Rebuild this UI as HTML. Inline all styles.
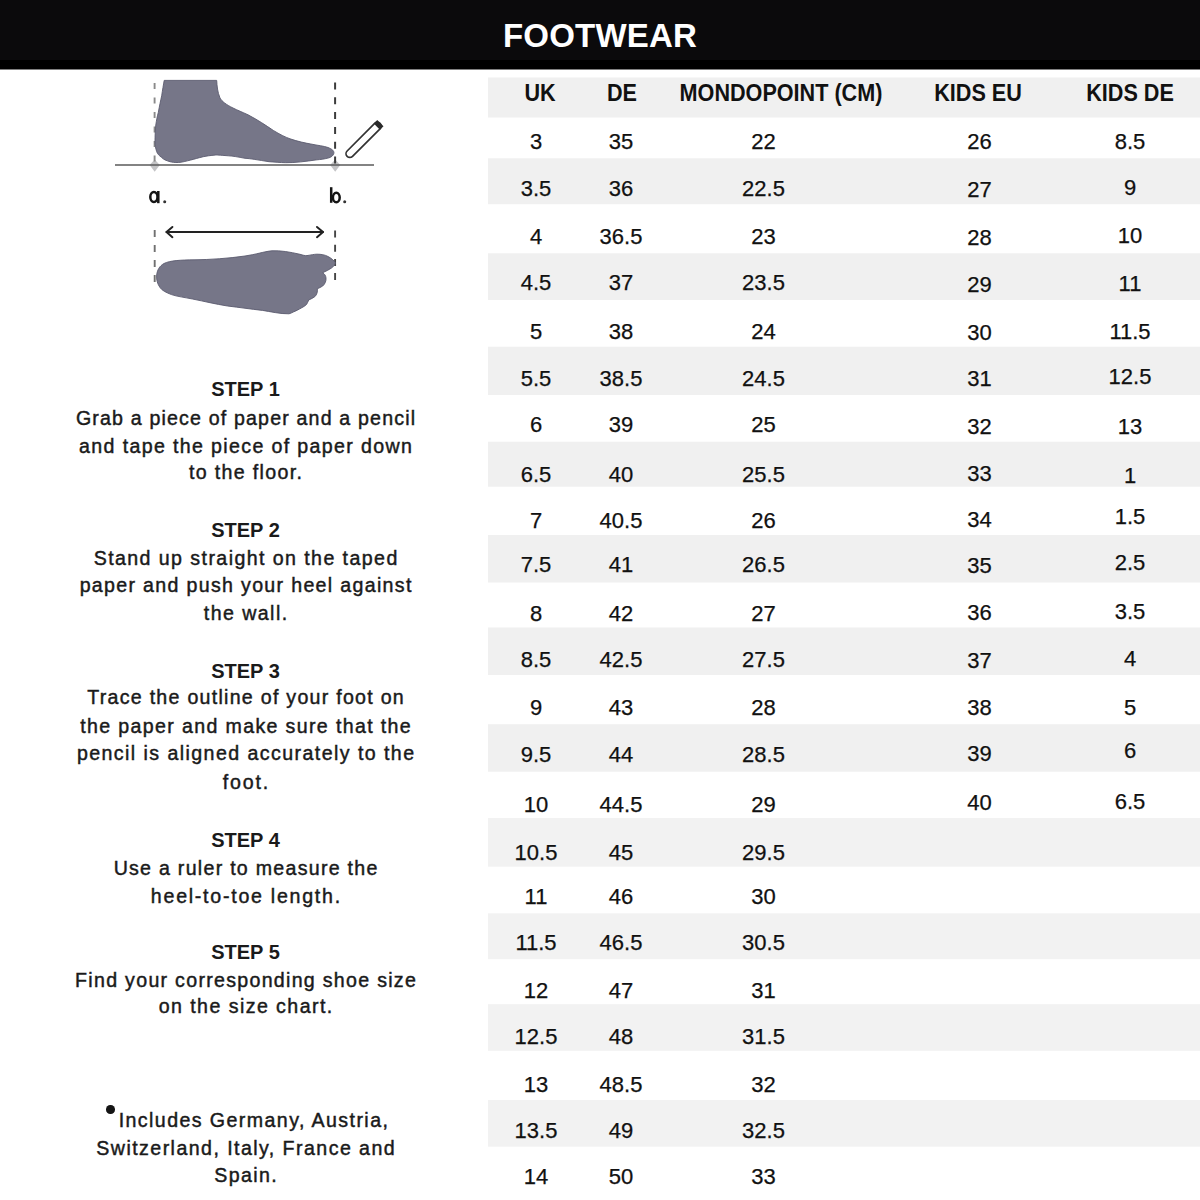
<!DOCTYPE html>
<html><head><meta charset="utf-8"><style>
html,body{margin:0;padding:0}
body{width:1200px;height:1200px;position:relative;overflow:hidden;background:#fff;font-family:"Liberation Sans",sans-serif;color:#111}
.bar{position:absolute;left:0;top:0;width:1200px;height:60px;background:#0b0a0c}
.bar2{position:absolute;left:0;top:60px;width:1200px;height:9px;background:#000}
.bar3{position:absolute;left:0;top:69px;width:1200px;height:1px;background:#808080}
.title{position:absolute;left:0;top:0;width:1200px;text-align:center;color:#fff;font-weight:700;font-size:33px;line-height:72px;letter-spacing:0.2px}
.band{position:absolute;left:488px;width:712px;background:#f0f0f0}
.c{position:absolute;width:100px;text-align:center;font-size:22px;line-height:22px;white-space:nowrap;-webkit-text-stroke:0.25px #111}
.h{position:absolute;top:79px;width:300px;text-align:center;font-weight:700;font-size:24px;line-height:28px;transform:scaleX(0.9);white-space:nowrap}
.sr,.sb{position:absolute;left:45.5px;width:400px;text-align:center;white-space:nowrap;color:#1a1a1a}
.sr{font-size:19.6px;line-height:19.6px;letter-spacing:1.35px;-webkit-text-stroke:0.45px #1a1a1a}
.sb{font-size:20px;line-height:20px;font-weight:700;letter-spacing:0px}
.ast{font-size:18px;font-weight:700;position:relative;top:-5px;margin-right:1px}
svg{position:absolute;left:0;top:0}
.bg{z-index:0}
</style></head><body>
<div class="bar"></div><div class="bar2"></div><div class="bar3"></div>
<div class="title">FOOTWEAR</div>
<svg class="bg" width="1200" height="1200"><rect x="488" y="77.5" width="712" height="40.0" fill="#f0f0f0"/><rect x="488" y="158.3" width="712" height="45.9" fill="#f0f0f0"/><rect x="488" y="253.3" width="712" height="46.7" fill="#f0f0f0"/><rect x="488" y="346.7" width="712" height="48.3" fill="#f0f0f0"/><rect x="488" y="441.7" width="712" height="45.0" fill="#f0f0f0"/><rect x="488" y="535" width="712" height="47.5" fill="#f0f0f0"/><rect x="488" y="627.5" width="712" height="47.5" fill="#f0f0f0"/><rect x="488" y="724.2" width="712" height="47.5" fill="#f0f0f0"/><rect x="488" y="818" width="712" height="48.7" fill="#f2f2f2"/><rect x="488" y="913.3" width="712" height="45.9" fill="#f2f2f2"/><rect x="488" y="1004.2" width="712" height="46.6" fill="#f2f2f2"/><rect x="488" y="1100" width="712" height="46.7" fill="#f2f2f2"/></svg>
<div class="c" style="left:486px;top:131.0px">3</div>
<div class="c" style="left:486px;top:177.9px">3.5</div>
<div class="c" style="left:486px;top:226.4px">4</div>
<div class="c" style="left:486px;top:271.8px">4.5</div>
<div class="c" style="left:486px;top:321.1px">5</div>
<div class="c" style="left:486px;top:367.8px">5.5</div>
<div class="c" style="left:486px;top:414.4px">6</div>
<div class="c" style="left:486px;top:463.8px">6.5</div>
<div class="c" style="left:486px;top:510.4px">7</div>
<div class="c" style="left:486px;top:554.4px">7.5</div>
<div class="c" style="left:486px;top:603.0px">8</div>
<div class="c" style="left:486px;top:649.1px">8.5</div>
<div class="c" style="left:486px;top:697.1px">9</div>
<div class="c" style="left:486px;top:743.8px">9.5</div>
<div class="c" style="left:486px;top:794.4px">10</div>
<div class="c" style="left:486px;top:841.9px">10.5</div>
<div class="c" style="left:486px;top:885.6px">11</div>
<div class="c" style="left:486px;top:931.8px">11.5</div>
<div class="c" style="left:486px;top:979.8px">12</div>
<div class="c" style="left:486px;top:1026.4px">12.5</div>
<div class="c" style="left:486px;top:1073.8px">13</div>
<div class="c" style="left:486px;top:1119.8px">13.5</div>
<div class="c" style="left:486px;top:1166.1px">14</div>
<div class="c" style="left:571px;top:131.0px">35</div>
<div class="c" style="left:571px;top:177.9px">36</div>
<div class="c" style="left:571px;top:226.4px">36.5</div>
<div class="c" style="left:571px;top:271.8px">37</div>
<div class="c" style="left:571px;top:321.1px">38</div>
<div class="c" style="left:571px;top:367.8px">38.5</div>
<div class="c" style="left:571px;top:414.4px">39</div>
<div class="c" style="left:571px;top:463.8px">40</div>
<div class="c" style="left:571px;top:510.4px">40.5</div>
<div class="c" style="left:571px;top:554.4px">41</div>
<div class="c" style="left:571px;top:603.0px">42</div>
<div class="c" style="left:571px;top:649.1px">42.5</div>
<div class="c" style="left:571px;top:697.1px">43</div>
<div class="c" style="left:571px;top:743.8px">44</div>
<div class="c" style="left:571px;top:794.4px">44.5</div>
<div class="c" style="left:571px;top:841.9px">45</div>
<div class="c" style="left:571px;top:885.6px">46</div>
<div class="c" style="left:571px;top:931.8px">46.5</div>
<div class="c" style="left:571px;top:979.8px">47</div>
<div class="c" style="left:571px;top:1026.4px">48</div>
<div class="c" style="left:571px;top:1073.8px">48.5</div>
<div class="c" style="left:571px;top:1119.8px">49</div>
<div class="c" style="left:571px;top:1166.1px">50</div>
<div class="c" style="left:713.5px;top:131.0px">22</div>
<div class="c" style="left:713.5px;top:177.9px">22.5</div>
<div class="c" style="left:713.5px;top:226.4px">23</div>
<div class="c" style="left:713.5px;top:271.8px">23.5</div>
<div class="c" style="left:713.5px;top:321.1px">24</div>
<div class="c" style="left:713.5px;top:367.8px">24.5</div>
<div class="c" style="left:713.5px;top:414.4px">25</div>
<div class="c" style="left:713.5px;top:463.8px">25.5</div>
<div class="c" style="left:713.5px;top:510.4px">26</div>
<div class="c" style="left:713.5px;top:554.4px">26.5</div>
<div class="c" style="left:713.5px;top:603.0px">27</div>
<div class="c" style="left:713.5px;top:649.1px">27.5</div>
<div class="c" style="left:713.5px;top:697.1px">28</div>
<div class="c" style="left:713.5px;top:743.8px">28.5</div>
<div class="c" style="left:713.5px;top:794.4px">29</div>
<div class="c" style="left:713.5px;top:841.9px">29.5</div>
<div class="c" style="left:713.5px;top:885.6px">30</div>
<div class="c" style="left:713.5px;top:931.8px">30.5</div>
<div class="c" style="left:713.5px;top:979.8px">31</div>
<div class="c" style="left:713.5px;top:1026.4px">31.5</div>
<div class="c" style="left:713.5px;top:1073.8px">32</div>
<div class="c" style="left:713.5px;top:1119.8px">32.5</div>
<div class="c" style="left:713.5px;top:1166.1px">33</div>
<div class="c" style="left:929.5px;top:130.6px">26</div>
<div class="c" style="left:929.5px;top:178.6px">27</div>
<div class="c" style="left:929.5px;top:226.6px">28</div>
<div class="c" style="left:929.5px;top:273.7px">29</div>
<div class="c" style="left:929.5px;top:322.1px">30</div>
<div class="c" style="left:929.5px;top:367.6px">31</div>
<div class="c" style="left:929.5px;top:415.6px">32</div>
<div class="c" style="left:929.5px;top:462.9px">33</div>
<div class="c" style="left:929.5px;top:508.8px">34</div>
<div class="c" style="left:929.5px;top:554.8px">35</div>
<div class="c" style="left:929.5px;top:602.1px">36</div>
<div class="c" style="left:929.5px;top:649.8px">37</div>
<div class="c" style="left:929.5px;top:697.1px">38</div>
<div class="c" style="left:929.5px;top:743.1px">39</div>
<div class="c" style="left:929.5px;top:792.1px">40</div>
<div class="c" style="left:1080px;top:130.6px">8.5</div>
<div class="c" style="left:1080px;top:176.5px">9</div>
<div class="c" style="left:1080px;top:224.5px">10</div>
<div class="c" style="left:1080px;top:273.1px">11</div>
<div class="c" style="left:1080px;top:321.1px">11.5</div>
<div class="c" style="left:1080px;top:366.1px">12.5</div>
<div class="c" style="left:1080px;top:415.6px">13</div>
<div class="c" style="left:1080px;top:464.5px">1</div>
<div class="c" style="left:1080px;top:505.7px">1.5</div>
<div class="c" style="left:1080px;top:551.6px">2.5</div>
<div class="c" style="left:1080px;top:600.7px">3.5</div>
<div class="c" style="left:1080px;top:648.1px">4</div>
<div class="c" style="left:1080px;top:697.1px">5</div>
<div class="c" style="left:1080px;top:740.1px">6</div>
<div class="c" style="left:1080px;top:790.7px">6.5</div>
<div class="h" style="left:390px">UK</div>
<div class="h" style="left:472px">DE</div>
<div class="h" style="left:630.5px">MONDOPOINT (CM)</div>
<div class="h" style="left:828px">KIDS EU</div>
<div class="h" style="left:980px">KIDS DE</div>
<div class="sb" style="top:379.3px">STEP 1</div>
<div class="sr" style="top:408.9px;letter-spacing:1.168px;left:46.08px">Grab a piece of paper and a pencil</div>
<div class="sr" style="top:436.7px;letter-spacing:1.350px;left:46.17px">and tape the piece of paper down</div>
<div class="sr" style="top:462.9px;letter-spacing:1.350px;left:46.17px">to the floor.</div>
<div class="sb" style="top:519.6px">STEP 2</div>
<div class="sr" style="top:549.2px;letter-spacing:1.419px;left:46.21px">Stand up straight on the taped</div>
<div class="sr" style="top:576.0px;letter-spacing:1.318px;left:46.16px">paper and push your heel against</div>
<div class="sr" style="top:603.8px;letter-spacing:1.425px;left:46.21px">the wall.</div>
<div class="sb" style="top:660.5px">STEP 3</div>
<div class="sr" style="top:688.4px;letter-spacing:1.269px;left:46.13px">Trace the outline of your foot on</div>
<div class="sr" style="top:717.0px;letter-spacing:1.350px;left:46.17px">the paper and make sure that the</div>
<div class="sr" style="top:744.4px;letter-spacing:1.429px;left:46.21px">pencil is aligned accurately to the</div>
<div class="sr" style="top:773.0px;letter-spacing:1.850px;left:46.42px">foot.</div>
<div class="sb" style="top:829.6px">STEP 4</div>
<div class="sr" style="top:859.1px;letter-spacing:1.270px;left:46.13px">Use a ruler to measure the</div>
<div class="sr" style="top:886.8px;letter-spacing:1.739px;left:46.37px">heel-to-toe length.</div>
<div class="sb" style="top:941.7px">STEP 5</div>
<div class="sr" style="top:970.6px;letter-spacing:1.288px;left:46.14px">Find your corresponding shoe size</div>
<div class="sr" style="top:997.4px;letter-spacing:1.438px;left:46.22px">on the size chart.</div>
<div class="sr" style="top:1111.2px;letter-spacing:1.418px;left:54.01px">Includes Germany, Austria,</div>
<div class="sr" style="top:1138.9px;letter-spacing:1.440px;left:46.22px">Switzerland, Italy, France and</div>
<div class="sr" style="top:1166.4px;letter-spacing:1.410px;left:46.20px">Spain.</div>
<div style="position:absolute;left:106px;top:1105px;width:8.5px;height:8.5px;border-radius:50%;background:#151515"></div>
<svg width="420" height="330" viewBox="0 0 420 330">
<g fill="#c4c4c6">
<polygon points="154.7,159.5 159.8,165 154.7,171.8 149.6,165"/>
<polygon points="335.2,159.5 340.3,165 335.2,171.8 330.1,165"/>
</g>
<g stroke-width="1.9" fill="none">
<line x1="154.6" y1="83" x2="154.6" y2="168" stroke="#8a8a8a" stroke-dasharray="6 8.5"/>
<line x1="154.7" y1="230" x2="154.7" y2="282" stroke="#707070" stroke-dasharray="7 8"/>
<line x1="335.1" y1="230.5" x2="335.1" y2="282" stroke="#454545" stroke-dasharray="7 7.2"/>
</g>
<g fill="#767688" stroke="#5a5a6e" stroke-width="0.9" stroke-linejoin="round">
<path d="M164.2,80.4 L216.7,80.4 C217,86 217.5,92 220,98 C222,101.5 226,104.5 233,108 C238,110.5 242,112 248,114.8 C258,120 266,125.5 273.3,130.4 C280,134.5 285,137 290,138.8 C298,141.5 305,143 310.8,144 C318,145.5 324,146 328,147.5 C332,149 334.5,151 333.8,153.5 C333,156 331,157.2 329,157.8 C325,159 320,159.6 317,159.8 C305,161.5 295,162.8 285.8,162.7 C280,162.6 274,162 269,161.7 C258,160 250,158.5 245,158.3 C238,157 233,156 228.3,155.8 C222,155.3 218,155 215.8,155 C210,155.5 207,156 203.3,156.7 C198,158 194,159.2 190.8,160 C186,161.2 182,162.3 178.3,162.5 C175,162.6 172,162.3 170,161.7 C166,160.5 163.5,159.5 161.7,157.5 C159,155.5 157.5,154 156.7,151.7 C155.5,148 155,145 155,141.7 C155,136 155.3,130 155.8,125 C156.5,120 157.3,116 158.3,112.5 C159.5,106 160.7,100 161.7,95.8 C162.5,90 163.4,85 164.2,80.4 Z"/>
<path d="M156.6,276 C157,270 159.5,266 164,263.5 C170,260.5 180,260 195,259.8 C210,259.6 228,258.5 245,256 C256,254.5 264,251.5 272,250.8 C280,250.3 290,252 300,254.3 C303,255.2 305,255.8 307,255.6 C311,255 314,254.2 317,254.2 C321,254.2 325,254.8 328,256.5 C331,258 334,260.5 335.4,262.8 C335,265 333.5,266.5 331.5,268 C329,269.8 326,271.2 322.7,272.7 C324.5,274 325.8,275.5 326,278 C326.3,281 325,284 322.7,286 C321,287.3 319,288 317.3,288.7 C317.6,290 317.5,291.5 317,293 C316.5,294.5 316,295.5 315,296.5 C313,298 311,299 308.7,300 C308,301.5 307.5,303 306.5,304.5 C305,306 303,307 301.3,308 C298.5,309.5 296,311 293.3,312 C291.5,312.8 290.5,313.5 289,313.8 C280,314 270,311.5 262.5,310.4 C250,309 240,307.5 227.5,306 C215,304 205,301.5 192.5,299 C185,297.5 177,296.5 171.5,294.6 C166,292.5 162,290.5 160,287.5 C157.5,284 156.4,280 156.6,276 Z"/>
</g>
<line x1="335.1" y1="82.5" x2="335.1" y2="168" stroke="#3c3c3c" stroke-width="2" stroke-dasharray="7 7.8"/>
<line x1="115" y1="165" x2="374" y2="165" stroke="#5a5a5a" stroke-width="1.6"/>
<g stroke="#222" stroke-width="2" fill="none" stroke-linecap="round" stroke-linejoin="round">
<line x1="166.5" y1="232" x2="323" y2="232"/>
<polyline points="172.4,227 166.5,232 172.4,237.2"/>
<polyline points="317,227 323,232 317,237.2"/>
</g>
<g transform="translate(347.5,156) rotate(-45)">
<rect x="-0.5" y="-3.8" width="46.5" height="7.6" rx="3.8" fill="#fff" stroke="#333" stroke-width="1.7"/>
<rect x="41.5" y="-4.4" width="5" height="8.8" fill="#2a2a2a"/>
</g>
<g fill="none" stroke="#151515" stroke-width="2.5">
<ellipse cx="153.9" cy="197" rx="3.6" ry="4.9"/>
<line x1="158.3" y1="191" x2="158.3" y2="203.2"/>
<ellipse cx="336.3" cy="197.5" rx="3.4" ry="4.8"/>
<line x1="331.2" y1="187.2" x2="331.2" y2="202.8"/>
</g>
<circle cx="164.7" cy="201.8" r="1.5" fill="#333"/>
<circle cx="344.7" cy="201.8" r="1.5" fill="#333"/>
</svg>

</body></html>
